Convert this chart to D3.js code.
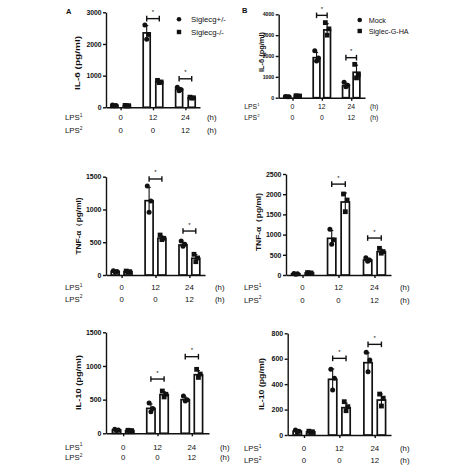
<!DOCTYPE html>
<html lang="en">
<head>
<meta charset="UTF-8">
<title>Siglec-G cytokines</title>
<script src="https://cdn.jsdelivr.net/npm/d3@7/dist/d3.min.js"></script>
<style>
  body { margin: 0; background: #fff; }
  text { font-family: "Liberation Sans", Arial, sans-serif; fill: #111; }
</style>
</head>
<body>
<svg width="474" height="474"></svg>
<script>
    // x categories: LPS1 / LPS2 time (h)
    var lps1 = ["0", "12", "24"];
    var lps2 = ["0", "0", "12"];
    var seriesA = ["Siglecg+/-", "Siglecg-/-"];
    var seriesB = ["Mock", "Siglec-G-HA"];

    // A - IL-6
    var il6A_s1 = [60, 2350, 570], il6A_s2 = [50, 810, 300];
    var il6A_p1 = [[70, 55, 50], [2600, 2300, 2150], [630, 560, 520]];
    var il6A_p2 = [[60, 50, 45], [850, 800, 780], [320, 300, 290]];
    var il6A_sig = [null, 2800, 900];
    var il6A_ticks = [0, 1000, 2000, 3000];
    // B - IL-6
    var il6B_s1 = [50, 1920, 576], il6B_s2 = [80, 3250, 1220];
    var il6B_p1 = [[60, 50, 40], [2250, 1900, 1760], [740, 600, 520]];
    var il6B_p2 = [[95, 80, 70], [3600, 3300, 3000], [1600, 1100, 950]];
    var il6B_sig = [null, 3950, 1920];
    var il6B_ticks = [0, 1000, 2000, 3000, 4000];
    // A - TNF-a
    var tnfA_s1 = [55, 1134, 458], tnfA_s2 = [50, 560, 255];
    var tnfA_p1 = [[65, 55, 45], [1358, 1130, 957], [519, 470, 440]];
    var tnfA_p2 = [[60, 50, 45], [610, 560, 540], [316, 260, 203]];
    var tnfA_sig = [null, 1465, 671];
    var tnfA_ticks = [0, 500, 1000, 1500];
    // B - TNF-a
    var tnfB_s1 = [30, 908, 371], tnfB_s2 = [50, 1807, 577];
    var tnfB_p1 = [[40, 30, 20], [1131, 866, 760], [428, 372, 340]];
    var tnfB_p2 = [[60, 50, 45], [2005, 1856, 1567], [660, 580, 540]];
    var tnfB_sig = [null, 2250, 915];
    var tnfB_ticks = [0, 500, 1000, 1500, 2000, 2500];
    // A - IL-10
    var il10A_s1 = [50, 370, 500], il10A_s2 = [40, 575, 870];
    var il10A_p1 = [[60, 50, 40], [450, 370, 320], [554, 500, 480]];
    var il10A_p2 = [[45, 40, 35], [628, 580, 540], [950, 880, 830]];
    var il10A_sig = [null, 806, 1138];
    var il10A_ticks = [0, 500, 1000, 1500];
    // B - IL-10
    var il10B_s1 = [30, 438, 569], il10B_s2 = [25, 215, 275];
    var il10B_p1 = [[40, 30, 20], [517, 446, 354], [650, 590, 498]];
    var il10B_p2 = [[30, 25, 22], [262, 223, 191], [322, 290, 228]];
    var il10B_sig = [null, 603, 713];
    var il10B_ticks = [0, 200, 400, 600, 800];

    var panels = [
        {label: "IL-6 (pg/ml)", s: [il6A_s1, il6A_s2], p: [il6A_p1, il6A_p2], sig: il6A_sig, ticks: il6A_ticks,
         left: 106, right: 200, top: 12.3, bottom: 107.3, pad: 0.45, barW: 7, off: 6.3, tf: 6.8,
         labX: 77.5, labY: 63, labLen: 54, lpsX: 65, lpsY: [120, 133], hX: 207, lf: 7.8},
        {label: "IL-6 (pg/ml)", s: [il6B_s1, il6B_s2], p: [il6B_p1, il6B_p2], sig: il6B_sig, ticks: il6B_ticks,
         left: 278.7, right: 365, top: 14.3, bottom: 97.7, pad: 0.47, barW: 6.7, off: 5.3, tf: 5.2,
         labX: 262, labY: 52, labLen: 40, lpsX: 244.3, lpsY: [108.5, 119.5], hX: 370, lf: 6.8},
        {label: "TNF-α（pg/ml)", s: [tnfA_s1, tnfA_s2], p: [tnfA_p1, tnfA_p2], sig: tnfA_sig, ticks: tnfA_ticks,
         left: 106, right: 205, top: 176.7, bottom: 275, pad: 0.46, barW: 8, off: 6.4, tf: 7,
         labX: 79, labY: 226, labLen: 57, lpsX: 65, lpsY: [290, 301.5], hX: 215, lf: 7.8},
        {label: "TNF-α（pg/ml)", s: [tnfB_s1, tnfB_s2], p: [tnfB_p1, tnfB_p2], sig: tnfB_sig, ticks: tnfB_ticks,
         left: 286, right: 391, top: 174, bottom: 275, pad: 0.46, barW: 8.3, off: 6.8, tf: 7,
         labX: 258.7, labY: 222, labLen: 58, lpsX: 244, lpsY: [290, 302.5], hX: 400, lf: 7.8},
        {label: "IL-10 (pg/ml)", s: [il10A_s1, il10A_s2], p: [il10A_p1, il10A_p2], sig: il10A_sig, ticks: il10A_ticks,
         left: 106, right: 209, top: 332.3, bottom: 433.3, pad: 0.5, barW: 8.3, off: 6.6, tf: 7,
         labX: 79, labY: 382.5, labLen: 55, lpsX: 65, lpsY: [449.5, 460], hX: 220, lf: 7.8},
        {label: "IL-10 (pg/ml)", s: [il10B_s1, il10B_s2], p: [il10B_p1, il10B_p2], sig: il10B_sig, ticks: il10B_ticks,
         left: 287.7, right: 391, top: 333.3, bottom: 435, pad: 0.46, barW: 8.3, off: 6.7, tf: 7,
         labX: 262, labY: 384, labLen: 52, lpsX: 244, lpsY: [451, 463], hX: 400, lf: 7.8}
    ];

    var svg = d3.select('svg');
    var jitter = [-1.8, 1.8, 0];

    panels.forEach(function(c) {
        var g = svg.append('g');
        var x = d3.scalePoint().domain(lps1).range([c.left, c.right]).padding(c.pad);
        var y = d3.scaleLinear().domain([0, c.ticks[c.ticks.length - 1]]).range([c.bottom, c.top]);
        var offs = [-c.off, c.off];

        // 坐标轴
        var ya = g.append('g')
            .attr('transform', 'translate(' + c.left + ',0)')
            .call(d3.axisLeft(y).tickValues(c.ticks).tickFormat(d3.format('d'))
                .tickSize(3).tickSizeOuter(0).tickPadding(1.5));
        ya.selectAll('text').attr('font-size', c.tf).attr('font-weight', 'bold')
            .attr('font-family', '"Liberation Sans", Arial, sans-serif').attr('fill', '#111');
        g.append('g')
            .attr('transform', 'translate(0,' + c.bottom + ')')
            .call(d3.axisBottom(x).tickSize(3).tickSizeOuter(0).tickFormat(''));
        g.selectAll('.domain, .tick line').attr('stroke', '#111').attr('stroke-width', 1.4);

        // bars, error bars, points
        [0, 1].forEach(function(s) {
            lps1.forEach(function(k, i) {
                var cx = x(k) + offs[s];
                var m = c.s[s][i], pts = c.p[s][i];
                var sd = d3.deviation(pts);
                g.append('rect')
                    .attr('x', cx - c.barW / 2).attr('y', y(m))
                    .attr('width', c.barW).attr('height', c.bottom - y(m))
                    .attr('fill', '#fff').attr('stroke', '#111').attr('stroke-width', 1.7);
                var eb = g.append('g').attr('stroke', '#111').attr('stroke-width', 1.1);
                eb.append('line').attr('x1', cx).attr('x2', cx).attr('y1', y(Math.max(0, m - sd))).attr('y2', y(m + sd));
                eb.append('line').attr('x1', cx - 1.6).attr('x2', cx + 1.6).attr('y1', y(m + sd)).attr('y2', y(m + sd));
                pts.forEach(function(v, j) {
                    var px = cx + jitter[j], py = y(v);
                    if (s === 0) {
                        g.append('circle').attr('cx', px).attr('cy', py).attr('r', 2.5).attr('fill', '#111');
                    } else {
                        g.append('rect').attr('x', px - 2.4).attr('y', py - 2.4)
                            .attr('width', 4.8).attr('height', 4.8).attr('fill', '#111');
                    }
                });
            });
        });

        // significance
        c.sig.forEach(function(v, i) {
            if (v == null) return;
            var x1 = x(lps1[i]) + offs[0], x2 = x(lps1[i]) + offs[1], yy = y(v);
            var br = g.append('g').attr('stroke', '#111').attr('stroke-width', 1.4);
            br.append('line').attr('x1', x1).attr('x2', x2).attr('y1', yy).attr('y2', yy);
            br.append('line').attr('x1', x1).attr('x2', x1).attr('y1', yy - 2.8).attr('y2', yy + 2.8);
            br.append('line').attr('x1', x2).attr('x2', x2).attr('y1', yy - 2.8).attr('y2', yy + 2.8);
            g.append('text').attr('x', (x1 + x2) / 2).attr('y', yy - 4.5)
                .attr('text-anchor', 'middle').attr('font-size', 6).text('*');
        });

        // y 轴标题
        g.append('text')
            .attr('transform', 'translate(' + c.labX + ',' + c.labY + ') rotate(-90)')
            .attr('text-anchor', 'middle').attr('dy', '0.35em')
            .attr('font-size', 6.8).attr('font-weight', 'bold')
            .attr('textLength', c.labLen).attr('lengthAdjust', 'spacingAndGlyphs')
            .text(c.label);

        // LPS rows
        [lps1, lps2].forEach(function(row, r) {
            var t = g.append('text').attr('x', c.lpsX).attr('y', c.lpsY[r]).attr('font-size', c.lf);
            t.append('tspan').text('LPS');
            t.append('tspan').attr('dy', -c.lf * 0.4).attr('font-size', c.lf * 0.62).text(r + 1);
            row.forEach(function(v, i) {
                g.append('text').attr('x', x(lps1[i])).attr('y', c.lpsY[r])
                    .attr('text-anchor', 'middle').attr('font-size', c.lf).text(v);
            });
            g.append('text').attr('x', c.hX).attr('y', c.lpsY[r]).attr('font-size', c.lf).text('(h)');
        });
    });

    // legends
    function legend(keys, lx, ly, tx, dy, fs) {
        var lg = svg.append('g').attr('font-size', fs);
        keys.forEach(function(k, i) {
            var yy = ly + dy * i;
            if (i === 0) lg.append('circle').attr('cx', lx).attr('cy', yy).attr('r', 2.3).attr('fill', '#111');
            else lg.append('rect').attr('x', lx - 2.2).attr('y', yy - 2.2).attr('width', 4.4).attr('height', 4.4).attr('fill', '#111');
            lg.append('text').attr('x', tx).attr('y', yy).attr('dy', '0.35em').text(k);
        });
    }
    legend(seriesA, 179, 19.3, 191, 12.7, 7.8);
    legend(seriesB, 359.7, 20, 368.7, 11, 7.2);

    // panel letters
    svg.append('text').attr('x', 66).attr('y', 14).attr('font-size', 7.5).attr('font-weight', 'bold').text('A');
    svg.append('text').attr('x', 242).attr('y', 13).attr('font-size', 7.5).attr('font-weight', 'bold').text('B');
</script>
</body>
</html>
